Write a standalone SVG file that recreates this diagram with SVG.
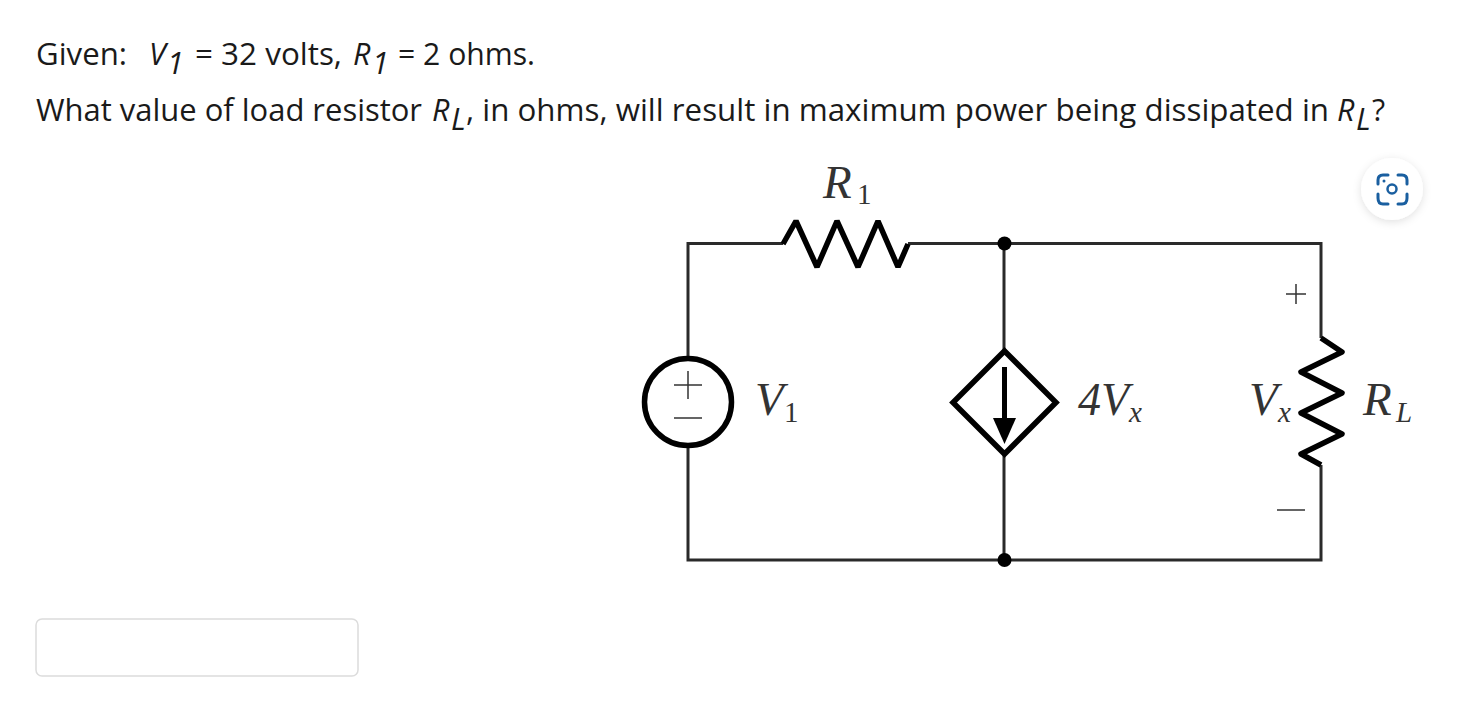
<svg xmlns="http://www.w3.org/2000/svg" width="1462" height="718" viewBox="0 0 1462 718">
<style>
.t{font-family:"Open Sans","Noto Sans",sans-serif;font-size:30.500px;fill:#1a1a1a}
.i{font-style:italic}
.m{font-family:"Liberation Serif",serif;fill:#333}
.mi{font-style:italic;font-size:47px}
.sub{font-size:29px}
.w{fill:none;stroke:#2a2a2a;stroke-width:3}
.c{fill:none;stroke:#000;stroke-width:5.500}
.thin{stroke:#333;stroke-width:1.500;fill:none}
</style>
<defs><filter id="sh" x="-30%" y="-30%" width="160%" height="160%"><feDropShadow dx="0" dy="2" stdDeviation="4" flood-color="#000" flood-opacity="0.12"/></filter></defs>
<rect width="1462" height="718" fill="#fff"/>
<g id="question">
<text class="t" x="36" y="65" textLength="91" lengthAdjust="spacingAndGlyphs">Given:</text>
<text class="t i" x="149" y="65">V</text><text class="t i" x="167" y="74">1</text>
<text class="t" x="195" y="65" textLength="147" lengthAdjust="spacingAndGlyphs">= 32 volts,</text>
<text class="t i" x="353" y="65">R</text><text class="t i" x="372" y="74">1</text>
<text class="t" x="398" y="65" textLength="137" lengthAdjust="spacingAndGlyphs">= 2 ohms.</text>
<text class="t" x="36" y="121" textLength="386" lengthAdjust="spacingAndGlyphs">What value of load resistor</text>
<text class="t i" x="432" y="121">R</text><text class="t i" x="451" y="130">L</text>
<text class="t" x="466" y="121" textLength="863" lengthAdjust="spacingAndGlyphs">, in ohms, will result in maximum power being dissipated in</text>
<text class="t i" x="1337" y="121">R</text><text class="t i" x="1356" y="130">L</text>
<text class="t" x="1372" y="121">?</text>
</g>
<g id="connectors">
<path class="w" d="M688 357V243.500H783M908 243.500H1321V338M1321 465V560H688V447M1004 243.500V350M1004 455V560"/>
</g>
<g id="R1">
<path class="c" stroke-linejoin="bevel" d="M783 244L796 221L817 267L837 221L858 267L878 221L898 267L908 244"/>
<text class="m mi" x="823" y="198">R</text><text class="m sub" x="857" y="204">1</text>
</g>
<g id="V1">
<circle class="c" cx="688" cy="402" r="43.500"/>
<path class="thin" d="M674 385H702M688 371V399M674 418H702"/>
<text class="m mi" x="755" y="415">V</text><text class="m sub" x="784" y="422">1</text>
</g>
<g id="source4Vx">
<path class="c" stroke-linejoin="miter" d="M1004.500 351L1056 402.500L1004.500 454L953 402.500Z"/>
<path d="M1004.500 367V420" stroke="#000" stroke-width="5" fill="none"/>
<path d="M993 418H1016L1004.500 444Z" fill="#000"/>
<text class="m mi" x="1078" y="415" style="font-size:46px">4V</text><text class="m i" font-size="29" x="1129" y="422">x</text>
</g>
<g id="RL">
<path class="c" stroke-linejoin="round" d="M1321 338L1342 352L1301 372L1342 393L1301 413L1342 434L1301 454L1321 465"/>
<path class="thin" d="M1286 294H1306M1296 284V304M1277 510H1305"/>
<text class="m mi" x="1249" y="415">V</text><text class="m i" font-size="29" x="1278" y="422">x</text>
<text class="m mi" x="1363" y="415">R</text><text class="m i" font-size="29" x="1396" y="422">L</text>
</g>
<g id="lens">
<circle cx="1392" cy="189" r="31" fill="#fff" filter="url(#sh)"/>
<path d="M1378 184V180Q1378 175 1383 175H1388M1398 175H1402Q1407 175 1407 180V184M1378 194V198Q1378 204 1383 204H1388M1398 204H1402Q1407 204 1407 198V194" fill="none" stroke="#1a5fa0" stroke-width="3" stroke-linecap="round"/>
<circle cx="1392" cy="189" r="4.500" fill="none" stroke="#1a5fa0" stroke-width="2.500"/>
<circle cx="1384" cy="181" r="1.500" fill="#1a5fa0"/>
</g>
<g id="junctions">
<circle cx="1004.500" cy="243.500" r="7" fill="#000"/>
<circle cx="1004.500" cy="560" r="7" fill="#000"/>
</g>
<g id="answer">
<rect x="36" y="619" width="322" height="57" rx="6" fill="#fff" stroke="#dcdcdc" stroke-width="1.500"/>
</g>
</svg>
